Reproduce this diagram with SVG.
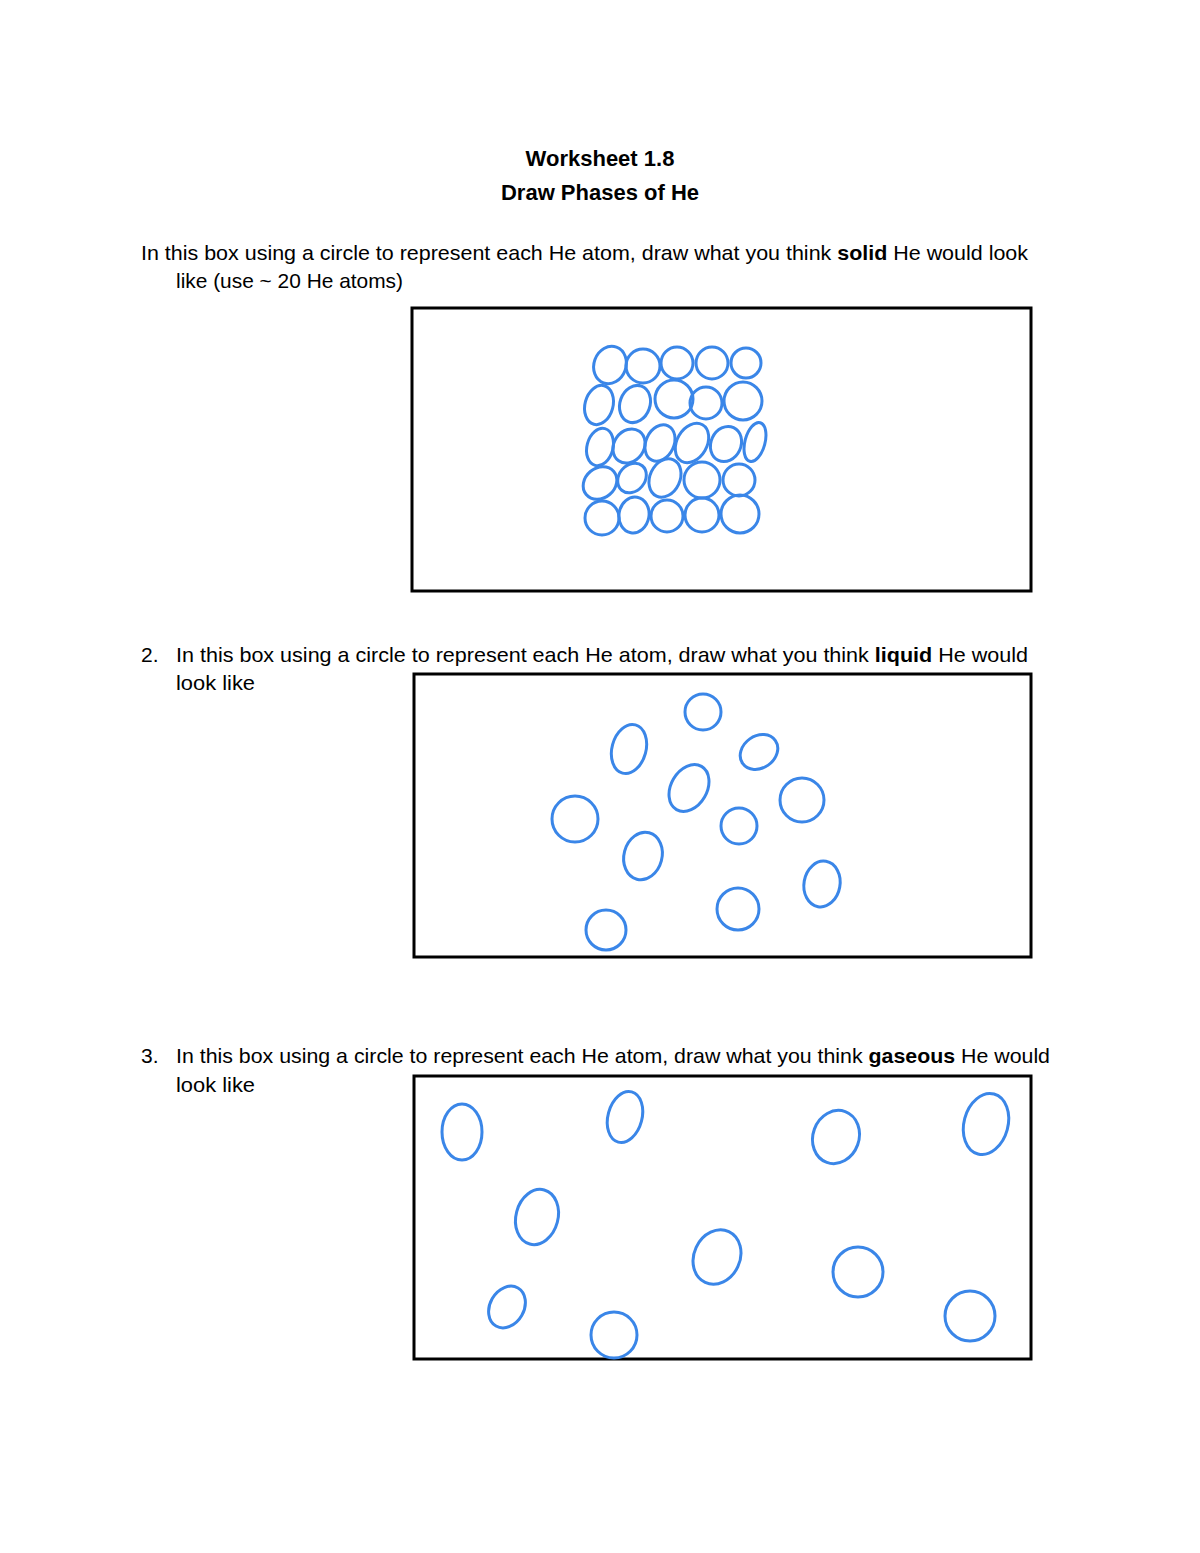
<svg xmlns="http://www.w3.org/2000/svg" width="1200" height="1553" viewBox="0 0 1200 1553">
<style>
text{font-family:"Liberation Sans",Arial,sans-serif;font-size:21px;fill:#000}
.t{font-weight:bold;font-size:22px;text-anchor:middle}
.box{fill:none;stroke:#000;stroke-width:3}
ellipse{fill:none;stroke:#3a86e8;stroke-width:3}
</style>
<rect width="1200" height="1553" fill="#fff"/>
<text class="t" x="600" y="166">Worksheet 1.8</text>
<text class="t" x="600" y="200">Draw Phases of He</text>
<text x="141" y="260" textLength="887" lengthAdjust="spacingAndGlyphs">In this box using a circle to represent each He atom, draw what you think <tspan font-weight="bold">solid</tspan> He would look</text>
<text x="176" y="288" textLength="227" lengthAdjust="spacingAndGlyphs">like (use ~ 20 He atoms)</text>
<text x="141" y="662">2.</text>
<text x="176" y="662" textLength="852" lengthAdjust="spacingAndGlyphs">In this box using a circle to represent each He atom, draw what you think <tspan font-weight="bold">liquid</tspan> He would</text>
<text x="176" y="690" textLength="79" lengthAdjust="spacingAndGlyphs">look like</text>
<text x="141" y="1063">3.</text>
<text x="176" y="1063" textLength="874" lengthAdjust="spacingAndGlyphs">In this box using a circle to represent each He atom, draw what you think <tspan font-weight="bold">gaseous</tspan> He would</text>
<text x="176" y="1092" textLength="79" lengthAdjust="spacingAndGlyphs">look like</text>
<rect class="box" x="412" y="308" width="619" height="283"/>
<rect class="box" x="414" y="674" width="617" height="283"/>
<rect class="box" x="414" y="1076" width="617" height="283"/>
<g id="solid">
<ellipse cx="610" cy="365" rx="16" ry="19" transform="rotate(20 610 365)"/>
<ellipse cx="643" cy="366" rx="17" ry="17"/>
<ellipse cx="677" cy="363" rx="16" ry="16"/>
<ellipse cx="712" cy="363" rx="16" ry="16"/>
<ellipse cx="746" cy="363" rx="15" ry="15"/>
<ellipse cx="599" cy="405" rx="14" ry="20" transform="rotate(15 599 405)"/>
<ellipse cx="635" cy="404" rx="15" ry="19" transform="rotate(20 635 404)"/>
<ellipse cx="674" cy="399" rx="19" ry="19"/>
<ellipse cx="706" cy="403" rx="16" ry="16"/>
<ellipse cx="743" cy="401" rx="19" ry="19"/>
<ellipse cx="600" cy="447" rx="13" ry="19" transform="rotate(15 600 447)"/>
<ellipse cx="629" cy="446" rx="15" ry="18" transform="rotate(35 629 446)"/>
<ellipse cx="660" cy="443" rx="14" ry="19" transform="rotate(25 660 443)"/>
<ellipse cx="692" cy="443" rx="15" ry="21" transform="rotate(30 692 443)"/>
<ellipse cx="726" cy="444" rx="15" ry="18" transform="rotate(25 726 444)"/>
<ellipse cx="755" cy="442" rx="10" ry="20" transform="rotate(15 755 442)"/>
<ellipse cx="600" cy="483" rx="15" ry="18" transform="rotate(50 600 483)"/>
<ellipse cx="632" cy="478" rx="13" ry="16" transform="rotate(40 632 478)"/>
<ellipse cx="665" cy="478" rx="15" ry="20" transform="rotate(25 665 478)"/>
<ellipse cx="702" cy="480" rx="18" ry="18"/>
<ellipse cx="739" cy="480" rx="16" ry="16"/>
<ellipse cx="602" cy="518" rx="17" ry="17"/>
<ellipse cx="634" cy="515" rx="15" ry="18" transform="rotate(10 634 515)"/>
<ellipse cx="667" cy="516" rx="16" ry="16"/>
<ellipse cx="702" cy="515" rx="17" ry="17"/>
<ellipse cx="740" cy="514" rx="19" ry="19"/>
</g>
<g id="liquid">
<ellipse cx="703" cy="712" rx="18" ry="18"/>
<ellipse cx="629" cy="749" rx="17" ry="25" transform="rotate(15 629 749)"/>
<ellipse cx="759" cy="752" rx="20" ry="16" transform="rotate(-35 759 752)"/>
<ellipse cx="689" cy="788" rx="18" ry="25" transform="rotate(30 689 788)"/>
<ellipse cx="575" cy="819" rx="23" ry="23"/>
<ellipse cx="802" cy="800" rx="22" ry="22"/>
<ellipse cx="739" cy="826" rx="18" ry="18"/>
<ellipse cx="643" cy="856" rx="19" ry="24" transform="rotate(15 643 856)"/>
<ellipse cx="822" cy="884" rx="18" ry="23" transform="rotate(10 822 884)"/>
<ellipse cx="738" cy="909" rx="21" ry="21"/>
<ellipse cx="606" cy="930" rx="20" ry="20"/>
</g>
<g id="gas">
<ellipse cx="462" cy="1132" rx="20" ry="28"/>
<ellipse cx="625" cy="1117" rx="17" ry="26" transform="rotate(15 625 1117)"/>
<ellipse cx="836" cy="1137" rx="23" ry="27" transform="rotate(20 836 1137)"/>
<ellipse cx="986" cy="1124" rx="22" ry="31" transform="rotate(15 986 1124)"/>
<ellipse cx="537" cy="1217" rx="21" ry="28" transform="rotate(15 537 1217)"/>
<ellipse cx="717" cy="1257" rx="23" ry="28" transform="rotate(25 717 1257)"/>
<ellipse cx="507" cy="1307" rx="17" ry="22" transform="rotate(30 507 1307)"/>
<ellipse cx="858" cy="1272" rx="25" ry="25"/>
<ellipse cx="614" cy="1335" rx="23" ry="23"/>
<ellipse cx="970" cy="1316" rx="25" ry="25"/>
</g>
</svg>
